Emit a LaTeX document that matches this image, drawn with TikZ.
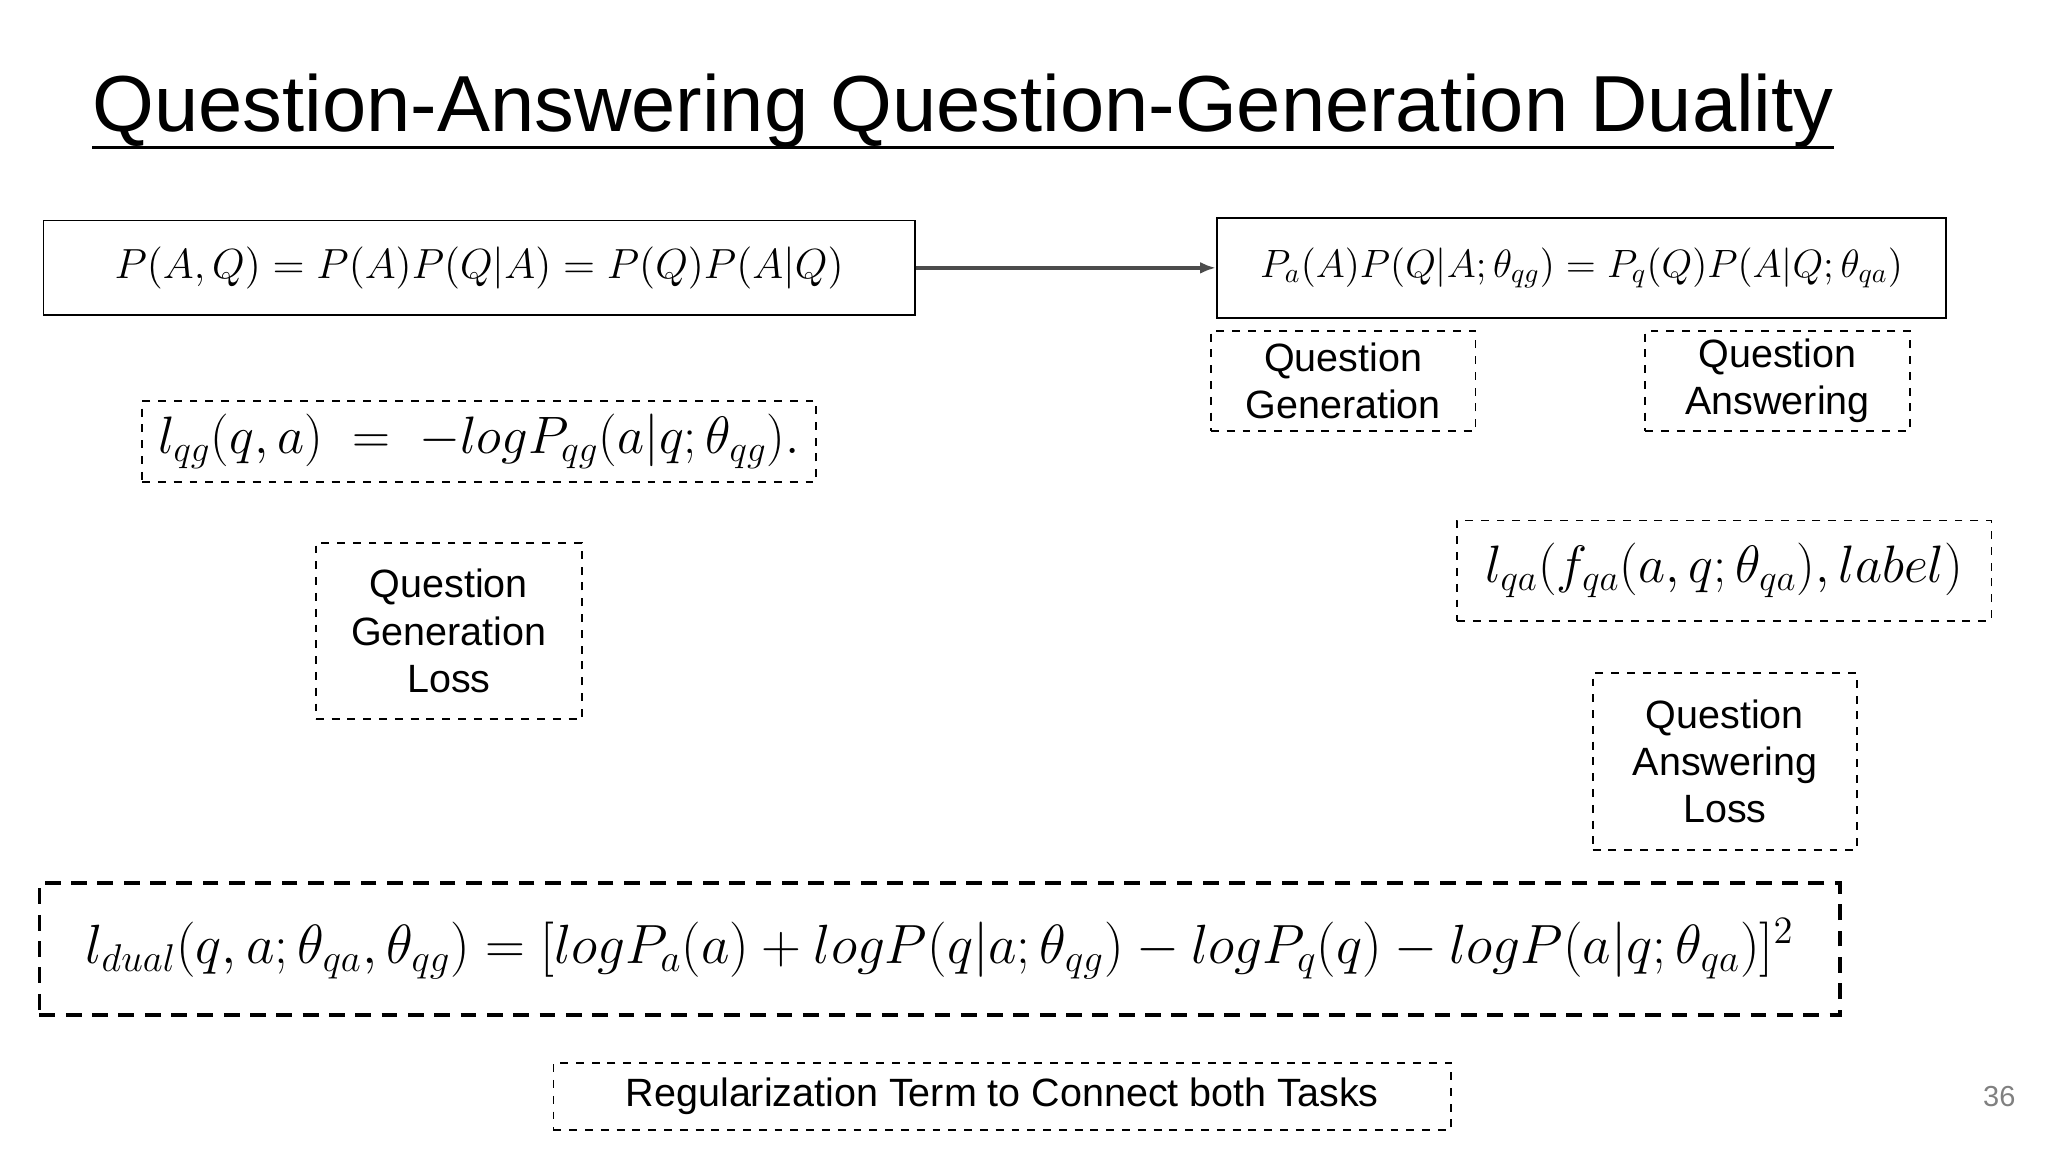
\documentclass[tikz,border=0pt]{standalone}
\usepackage{fix-cm}
\usepackage{fontspec}
\setmainfont{Liberation Sans}
\usetikzlibrary{arrows.meta}
\tikzset{
  lbl/.style={draw, dashed, line width=0.7pt, align=center, inner sep=0pt, font=\fontsize{15}{18}\selectfont},
  fbox/.style={draw, line width=0.7pt, inner sep=0pt},
  dfbox/.style={draw, dashed, line width=0.7pt, inner sep=0pt}
}
\begin{document}
\begin{tikzpicture}[x=0.5pt,y=-0.5pt]
\useasboundingbox (0,0) rectangle (1556,875);
\node[anchor=base west, inner sep=0pt, font=\fontsize{30.2}{36}\selectfont] (title) at (70,100) {Question-Answering Question-Generation Duality};
\draw[line width=1.2pt] (title.base west)++(0,12) coordinate (u1) -- (title.base east |- u1) coordinate (u2);
\node[fbox, minimum width=331pt, minimum height=36pt, font=\fontsize{16}{18}\selectfont] (b1) at (364,203.5) {$P(A,Q)=P(A)P(Q|A)=P(Q)P(A|Q)$};
\node[fbox, minimum width=277pt, minimum height=38pt, font=\fontsize{15}{18}\selectfont] (b2) at (1201.5,203.5) {$P_a(A)P(Q|A;\theta_{qg})=P_q(Q)P(A|Q;\theta_{qa})$};
\draw[-{Latex[length=6pt]}, line width=1.5pt, black!70] (b1.east) -- (b2.west);
\node[lbl, minimum width=100.5pt, minimum height=38pt] (qg) at (1020.5,289.5) {Question\\Generation};
\node[lbl, minimum width=100.5pt, minimum height=38pt] (qa) at (1350.5,289.5) {Question\\Answering};
\node[dfbox, minimum width=256pt, minimum height=31pt, font=\fontsize{20}{22}\selectfont] (lqg) at (364,335.5) {$l_{qg}(q,a)\;=\;-logP_{qg}(a|q;\theta_{qg}).$};
\node[lbl, minimum width=101pt, minimum height=67pt] (qgl) at (341,479.5) {Question\\Generation\\Loss};
\node[dfbox, minimum width=203pt, minimum height=38pt, font=\fontsize{20}{22}\selectfont] (lqa) at (1310,433.5) {$l_{qa}(f_{qa}(a,q;\theta_{qa}),label)$};
\node[lbl, minimum width=100.5pt, minimum height=67pt] (qal) at (1310.5,578.5) {Question\\Answering\\Loss};
\node[draw, dashed, dash pattern=on 6pt off 4pt, line width=1.5pt, inner sep=0pt, minimum width=684pt, minimum height=50pt, font=\fontsize{21}{24}\selectfont] (dual) at (714,721) {$l_{dual}(q,a;\theta_{qa},\theta_{qg})=[logP_a(a)+logP(q|a;\theta_{qg})-logP_q(q)-logP(a|q;\theta_{qa})]^2$};
\node[lbl, minimum width=341pt, minimum height=25.5pt] (reg) at (761.5,833) {Regularization Term to Connect both Tasks};
\node[text=gray, font=\fontsize{11}{13}\selectfont, inner sep=0pt] (pg) at (1519,833) {36};
\end{tikzpicture}
\end{document}
